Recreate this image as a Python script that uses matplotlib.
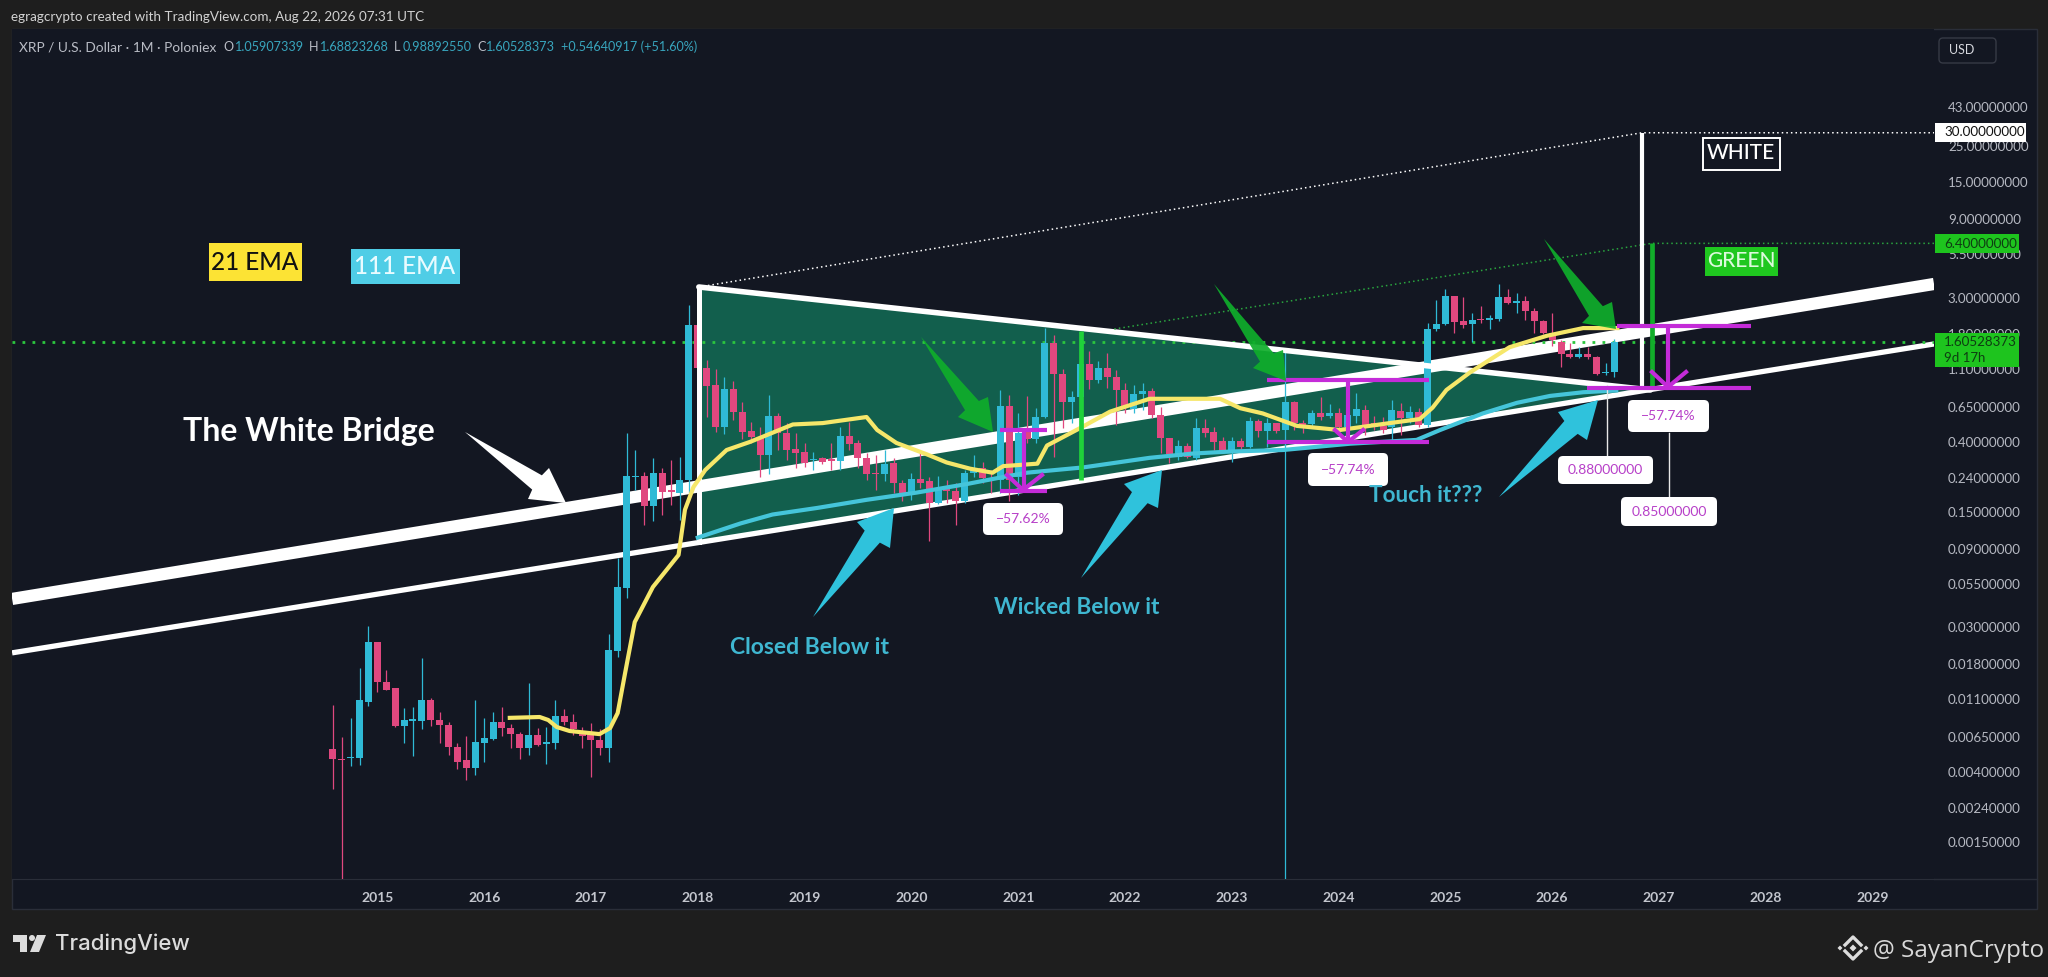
import matplotlib
matplotlib.use("Agg")
import matplotlib.pyplot as plt
from matplotlib.patches import Polygon, Rectangle, FancyBboxPatch, Circle
from matplotlib.transforms import Affine2D

# ---------- data: monthly XRP/USD candles, Aug 2014 .. Aug 2026 ----------
opens = [.00545,.00478,.00485,.00485,.0106,.0246,.0140,.0128,.00755,.0081,.0081,.0108,.00822,.0077,.00563,.00471,
 .00421,.00595,.00634,.00802,.0074,.0068,.00558,.00663,.0059,.00597,.00866,.00802,.00672,.00663,.00626,.00555,
 .0216,.0522,.245,.248,.163,.26,.204,.196,.235,2.05,1.13,.885,.495,.834,.61,.468,.426,.333,.575,.451,.36,.347,
 .309,.318,.314,.306,.436,.392,.32,.26,.256,.296,.224,.195,.237,.23,.171,.206,.202,.176,.258,.276,.24,.235,.66,
 .246,.472,.415,.564,1.585,1.03,.70,.745,1.19,.95,1.12,.995,.826,.63,.78,.818,.582,.42,.325,.378,.318,.483,.46,
 .405,.349,.405,.374,.535,.468,.518,.472,.695,.518,.513,.60,.575,.596,.495,.575,.624,.518,.50,.495,.618,.556,
 .605,.506,1.93,2.07,3.05,2.15,2.07,2.22,2.18,2.22,3.02,2.78,2.85,2.50,2.15,1.84,1.62,1.365,1.316,1.365,1.316,
 1.04,1.05907339]
highs = [.0101,.00648,.0084,.017,.0307,.0246,.0166,.0128,.0097,.00985,.0195,.0112,.0092,.0080,.00597,.0066,
 .0108,.0085,.00922,.00985,.00777,.0070,.0138,.0074,.0075,.0108,.00957,.0090,.0075,.00791,.00723,.0273,
 .0785,.452,.357,.263,.32,.278,.311,.325,2.72,3.3,1.256,1.10,.985,.94,.70,.53,.495,.77,.596,.518,.455,.392,
 .349,.325,.396,.495,.53,.411,.341,.333,.357,.318,.235,.26,.341,.246,.248,.235,.224,.27,.333,.304,.27,.826,.77,
 .596,.757,.64,1.96,1.78,1.10,.81,1.23,1.43,1.24,1.378,1.09,.906,.885,.906,.845,.654,.42,.411,.392,.556,.548,.495,
 .43,.43,.42,.569,.548,.556,.518,1.48,.705,.543,.624,.745,.678,.64,.788,.795,.67,.575,.569,.718,.685,.66,
 .64,2.10,2.91,3.37,3.05,3.02,2.41,2.65,2.35,3.63,3.37,3.19,3.08,2.59,2.20,2.41,1.66,1.585,1.50,1.513,1.33,
 1.198,1.68823268]
lows = [.00313,.00089,.00431,.00441,.0100,.0122,.0125,.0075,.00592,.00494,.00723,.00755,.00592,.00502,.00415,.00357,
 .00383,.00456,.00626,.0066,.00558,.00474,.00506,.00571,.00443,.0055,.00762,.00669,.00558,.00369,.00504,.00456,
 .0197,.0453,.204,.126,.132,.145,.166,.135,.196,1.06,.569,.46,.445,.543,.415,.392,.246,.254,.357,.311,.276,.28,
 .27,.293,.27,.27,.357,.276,.235,.204,.23,.195,.174,.178,.209,.0995,.168,.17,.125,.171,.246,.224,.195,.195,.174,
 .19,.392,.396,.555,.325,.483,.518,.73,.834,.906,.845,.505,.596,.596,.624,.556,.341,.296,.311,.318,.311,.43,.357,
 .341,.304,.357,.365,.43,.374,.451,.00088,.472,.451,.483,.543,.556,.472,.472,.518,.44,.472,.451,.411,.44,.518,
 .495,.495,1.87,2.05,1.82,1.96,1.62,2.10,1.93,2.15,2.76,2.43,2.18,1.84,1.80,1.52,1.133,1.286,1.286,1.27,1.02,
 1.02,.9889255]
closes = [.00474,.00471,.00492,.0108,.0246,.0139,.0125,.00755,.0082,.0083,.0108,.00822,.00762,.00563,.00458,.00421,
 .00603,.0064,.00802,.0074,.00675,.00558,.00663,.00582,.00603,.00866,.00795,.00723,.00657,.00626,.00553,.0220,
 .0529,.248,.248,.163,.26,.198,.198,.235,2.05,1.12,.875,.495,.834,.605,.46,.426,.333,.575,.451,.357,.344,.299,
 .314,.303,.307,.436,.388,.318,.254,.256,.294,.224,.192,.237,.226,.171,.209,.20,.176,.258,.27,.24,.237,.66,.235,
 .455,.415,.569,1.585,1.03,.70,.752,1.19,.95,1.12,.995,.826,.64,.78,.815,.582,.42,.338,.378,.325,.483,.455,.40,
 .354,.405,.37,.535,.468,.518,.468,.695,.518,.49,.60,.569,.60,.495,.582,.63,.495,.495,.472,.624,.556,.605,
 .506,1.94,2.07,3.05,2.12,2.05,2.20,2.18,2.25,3.02,2.78,2.85,2.50,2.15,1.84,1.661,1.365,1.316,1.365,1.316,1.03,
 1.06,1.60528373]
first_year = 2014 + 7 / 12

ema21_years = [2016.24,2016.52,2016.60,2016.68,2016.80,2017.08,2017.18,2017.25,2017.32,2017.41,2017.58,2017.82,2017.88,
 2017.96,2018.07,2018.27,2018.49,2018.89,2019.17,2019.58,2019.68,2019.86,2020.15,2020.33,2020.55,2020.76,2020.86,
 2021.18,2021.27,2021.58,2021.86,2022.23,2022.89,2023.08,2023.29,2023.61,2024.01,2024.48,2024.76,2024.88,2025.01,
 2025.23,2025.60,2025.95,2026.29,2026.61]
ema21_values = [.00847,.00857,.00822,.00745,.00705,.00675,.00735,.00906,.0159,.0323,.0527,.0824,.155,.213,.27,.357,.40,
 .51,.52,.566,.472,.394,.335,.30,.275,.26,.285,.295,.38,.485,.61,.73,.73,.64,.595,.50,.472,.52,.55,.645,.826,1.055,
 1.50,1.76,1.96,1.96]
ema111_years = [2018.00,2018.40,2018.70,2019.12,2019.58,2020.05,2020.52,2020.86,2021.08,2021.61,2022.23,2022.64,2023.01,
 2023.48,2024.11,2024.73,2024.95,2025.35,2025.67,2025.98,2026.29,2026.60]
ema111_values = [.105,.128,.145,.159,.178,.197,.222,.245,.26,.28,.32,.34,.35,.357,.39,.411,.472,.595,.69,.76,.80,.82]

bridge_years, bridge_prices = [2011.58, 2029.575], [.0446, 3.63]
lower_years, lower_prices = [2011.58, 2029.575], [.021, 1.57]
tri_years, tri_prices = [2018.01, 2026.92, 2018.01], [3.48, .826, .099]
white_years, white_prices = [2018.01, 2026.84, 2029.575], [3.48, 30, 30]
green_years, green_prices = [2021.90, 2026.93, 2029.575], [1.935, 6.4, 6.4]
price_ticks = [43,25,15,9,5.5,3,1.8,1.1,.65,.4,.24,.15,.09,.055,.03,.018,.011,.0065,.004,.0024,.0015]
year_ticks = list(range(2015, 2030))
last_close = 1.60528373

# ---------- layout ----------
W, H = 2048, 977
BG, PANE, GRIDC = "#1e1e1e", "#131722", "#2a2e39"
UP, DOWN = "#2fbad6", "#e0487f"
MAG, CY, GR = "#c42bd8", "#2fc2dc", "#0fae2b"
FONT = "Lato"
plt.rcParams["font.family"] = [FONT, "DejaVu Sans"]

fig = plt.figure(figsize=(W / 100, H / 100), dpi=100, facecolor=BG)
T = Affine2D().scale(1, -1).translate(0, H)   # layout pixels, origin top-left
fig.add_artist(Rectangle((12, 29), 2025, 880, transform=T, fc=PANE, ec=GRIDC, lw=1, zorder=-1))
ax = fig.add_axes([12 / W, (H - 879) / H, 1922 / W, 850 / H], facecolor=PANE)
ax.set_yscale("log")
ax.set_xlim(2011.579, 2029.575)
ax.set_ylim(.000892, 127.8)
ax.set_autoscale_on(False)
for s in ("top", "left", "right"):
    ax.spines[s].set_visible(False)
ax.spines["bottom"].set_color(GRIDC)
ax.plot([1934, 2037], [879, 879], transform=T, color=GRIDC, lw=1, clip_on=False, zorder=1)
ax.yaxis.tick_right()
ax.minorticks_off()
ax.set_yticks(price_ticks)
ax.set_yticklabels([f"{p:.8f}" for p in price_ticks], color="#b6b9c2", fontsize=9.6)
ax.set_xticks(year_ticks)
ax.set_xticklabels([str(y) for y in year_ticks], color="#c3c6ce", fontsize=10, fontweight="bold")
ax.tick_params(axis="y", length=0, pad=10)
ax.tick_params(axis="x", length=0, pad=9)

# triangle and bridge lines
ax.add_patch(Polygon(list(zip(tri_years, tri_prices)), closed=True, fc="#125f4d", ec="none", zorder=1))
ax.plot(bridge_years, bridge_prices, color="white", lw=8.8, solid_capstyle="butt", zorder=2)
ax.plot(lower_years, lower_prices, color="white", lw=3.8, solid_capstyle="butt", zorder=2)
ax.axhline(last_close, color="#2bc63e", lw=2.0, ls=(0, (1, 2.6)), zorder=2.5)

# candles
years = [first_year + i / 12 for i in range(len(opens))]
colors = [UP if c >= o else DOWN for o, c in zip(opens, closes)]
ax.vlines(years, lows, highs, colors=colors, lw=0.9, zorder=3)
ax.bar(years, [abs(c - o) for o, c in zip(opens, closes)], bottom=[min(o, c) for o, c in zip(opens, closes)],
       width=0.0655, color=colors, linewidth=0, zorder=3.1)

# triangle outline over candles
ax.plot(tri_years[:2], tri_prices[:2], color="white", lw=4.0, solid_capstyle="round", zorder=3.3)
ax.plot([tri_years[0], tri_years[2]], [tri_prices[0], tri_prices[2]], color="white", lw=3.6, zorder=3.3)

# EMAs
ax.plot(ema111_years, ema111_values, color="#45c5da", lw=3.0, zorder=4, solid_joinstyle="round")
ax.plot(ema21_years, ema21_values, color="#f6e76a", lw=3.0, zorder=4.1, solid_joinstyle="round")

# projections
ax.plot(white_years, white_prices, color="white", lw=1.1, ls=(0, (1, 2)), zorder=4)
ax.plot(green_years, green_prices, color="#2aa53f", lw=1.1, ls=(0, (1, 2)), zorder=4)
ax.plot([2026.84, 2026.84], [30, .85], color="white", lw=3, solid_capstyle="butt", zorder=4.5)
ax.plot([2026.93, 2026.93], [6.4, .85], color="#12ad2a", lw=3.4, solid_capstyle="butt", zorder=4.6)
ax.plot([2021.59, 2021.59], [1.87, .235], color="#1fd13a", lw=3.4, solid_capstyle="butt", zorder=4.6)
ax.plot([2026.51, 2026.51], [.88, .333], color="#e8e8e8", lw=1, zorder=4.4)
ax.plot([2027.09, 2027.09], [.45, .18], color="#e8e8e8", lw=1, zorder=4.4)

# measure tools (price levels)
measures = [(2020.83, 2021.27, 2020.83, 2021.27, 2021.05, .472, .20),
            (2023.33, 2024.85, 2023.33, 2024.85, 2024.09, .95, .40),
            (2026.61, 2027.86, 2026.33, 2027.86, 2027.08, 2.011, .85)]
for x0, x1, x2, x3, xm, top, bot in measures:
    ax.plot([x0, x1], [top, top], color=MAG, lw=3, solid_capstyle="butt", zorder=5)
    ax.plot([x2, x3], [bot, bot], color=MAG, lw=3, solid_capstyle="butt", zorder=5)
    ax.plot([xm, xm], [top, bot], color=MAG, lw=3, solid_capstyle="butt", zorder=5)
for pts in ([(1007, 475), (1023, 490), (1042, 475)], [(1335, 430), (1348, 442), (1363, 430)],
            [(1652, 372), (1668, 387), (1686, 372)]):
    ax.plot(*zip(*pts), transform=T, color=MAG, lw=3, zorder=5, clip_on=False)

def arrow(tail, tip, w1, w2, color, alpha=1.0):
    n1 = (w1[0] * .72 + tail[0] * .02 + w2[0] * .26, w1[1] * .72 + tail[1] * .02 + w2[1] * .26)
    n2 = (w2[0] * .72 + tail[0] * .02 + w1[0] * .26, w2[1] * .72 + tail[1] * .02 + w1[1] * .26)
    ax.add_patch(Polygon([tail, n1, w1, tip, w2, n2], closed=True, transform=T, fc=color, ec="none",
                         alpha=alpha, zorder=6, clip_on=False))

arrow((465, 432), (566, 503), (549, 468), (528, 499), "white")
arrow((921, 337), (993, 432), (988, 397), (958, 417), GR, .92)
arrow((1214, 284), (1286, 381), (1283, 350), (1253, 368), GR, .92)
arrow((1544, 239), (1616, 329), (1612, 302), (1582, 323), GR, .92)
arrow((813, 617), (894, 508), (857, 522), (890, 548), CY)
arrow((1081, 578), (1162, 470), (1124, 484), (1158, 508), CY)
arrow((1499, 497), (1598, 400), (1558, 412), (1587, 440), CY)

def px_text(x, y, s, **kw):
    kw.setdefault("va", "center")
    kw.setdefault("ha", "left")
    kw.setdefault("zorder", 12)
    kw.setdefault("clip_on", False)
    return ax.text(x, y, s, transform=T, **kw)

def box(x0, y0, x1, y1, fc="white", ec="none", lw=0, r=0, z=11):
    if r:
        p = FancyBboxPatch((x0, y0), x1 - x0, y1 - y0, boxstyle=f"round,pad=0,rounding_size={r}",
                           transform=T, fc=fc, ec=ec, lw=lw, zorder=z, clip_on=False)
    else:
        p = Rectangle((x0, y0), x1 - x0, y1 - y0, transform=T, fc=fc, ec=ec, lw=lw, zorder=z, clip_on=False)
    ax.add_patch(p)

# white callouts
for x0, y0, x1, y1, s in [(983, 503, 1063, 535, "\u221257.62%"), (1308, 453, 1388, 486, "\u221257.74%"),
                          (1628, 400, 1709, 432, "\u221257.74%"), (1558, 456, 1653, 484, "0.88000000"),
                          (1621, 497, 1717, 526, "0.85000000")]:
    box(x0, y0, x1, y1, r=5)
    px_text((x0 + x1) / 2, (y0 + y1) / 2, s, ha="center", color="#b73fc8", fontsize=10)

# legend-style labels
box(209, 243, 302, 281, fc="#fce334")
px_text(255, 262, "21 EMA", ha="center", color="#111111", fontsize=17.5, fontweight="medium")
box(351, 249, 460, 284, fc="#4fcde6")
px_text(405, 267, "111 EMA", ha="center", color="#e8fbff", fontsize=17.5, fontweight="medium")
box(1703, 138, 1780, 170, fc="none", ec="white", lw=1.4)
px_text(1741, 153, "WHITE", ha="center", color="white", fontsize=15, fontweight="medium")
box(1705, 247, 1778, 276, fc="#1fc71f")
px_text(1741, 261, "GREEN", ha="center", color="#dcfadc", fontsize=15, fontweight="medium")
px_text(183, 431, "The White Bridge", color="white", fontsize=23, fontweight="bold")
px_text(730, 647, "Closed Below it", color="#3fb7d1", fontsize=16.5, fontweight="bold")
px_text(994, 608, "Wicked Below it", color="#3fb7d1", fontsize=16.2, fontweight="bold")
px_text(1369, 495, "Touch it???", color="#3fb7d1", fontsize=16.2, fontweight="bold")

# price scale tags
box(1935, 123, 2026, 142, fc="white")
px_text(1944, 132.5, "30.00000000", color="#111111", fontsize=9.6)
box(1935, 234, 2019, 253, fc="#1ec41e")
px_text(1944, 243.5, "6.40000000", color="#0e3d12", fontsize=9.6)
box(1935, 333, 2019, 367, fc="#1ec41e")
px_text(1944, 342, "1.60528373", color="#0e3d12", fontsize=9.6)
px_text(1944, 358, "9d 17h", color="#0e3d12", fontsize=9.5)
box(1939, 38, 1996, 63, fc=PANE, ec="#363a45", lw=1, r=4)
px_text(1949, 50, "USD", color="#d6d8de", fontsize=9)

# header
px_text(11, 17, "egragcrypto created with TradingView.com, Aug 22, 2026 07:31 UTC", color="#d2d2d2", fontsize=9.7)
px_text(19, 47, "XRP / U.S. Dollar \u00b7 1M \u00b7 Poloniex", color="#b9bcc5", fontsize=9.9)
for x, s, c in [(223, "O", "#b9bcc5"), (235, "1.05907339", UP), (309, "H", "#b9bcc5"), (320, "1.68823268", UP),
                (394, "L", "#b9bcc5"), (403, "0.98892550", UP), (477, "C", "#b9bcc5"), (486, "1.60528373", UP),
                (561, "+0.54640917 (+51.60%)", UP)]:
    px_text(x, 47, s, color=c if c != UP else "#38a5bd", fontsize=9.1)

# footer
LOGO = "#dcdcdc"
for pts in ([(13, 935), (27, 935), (27, 952), (20, 952), (20, 942), (13, 942)],
            [(37, 935), (46, 935), (39, 952), (30, 952)]):
    ax.add_patch(Polygon(pts, closed=True, transform=T, fc=LOGO, ec="none", zorder=12, clip_on=False))
ax.add_patch(Circle((32, 938), 3, transform=T, fc=LOGO, ec="none", zorder=12, clip_on=False))
px_text(55, 944, "TradingView", color=LOGO, fontsize=16, fontfamily="Inter", fontweight="medium")
cx, cy = 1853, 948
for dx, dy, r in [(0, 0, 3.5), (-13, 0, 2.5), (13, 0, 2.5)]:
    ax.add_patch(Polygon([(cx + dx - r, cy + dy), (cx + dx, cy + dy - r), (cx + dx + r, cy + dy), (cx + dx, cy + dy + r)],
                         closed=True, transform=T, fc=LOGO, ec="none", zorder=12, clip_on=False))
ax.plot([cx - 8, cx, cx + 8], [cy - 3, cy - 11, cy - 3], transform=T, color=LOGO, lw=2.4, zorder=12, clip_on=False)
ax.plot([cx - 8, cx, cx + 8], [cy + 3, cy + 11, cy + 3], transform=T, color=LOGO, lw=2.4, zorder=12, clip_on=False)
px_text(1873, 951, "@ SayanCrypto", color="#d8d8d8", fontsize=17.5, fontfamily="Open Sans")

fig.savefig("out.png", dpi=100, facecolor=BG)
